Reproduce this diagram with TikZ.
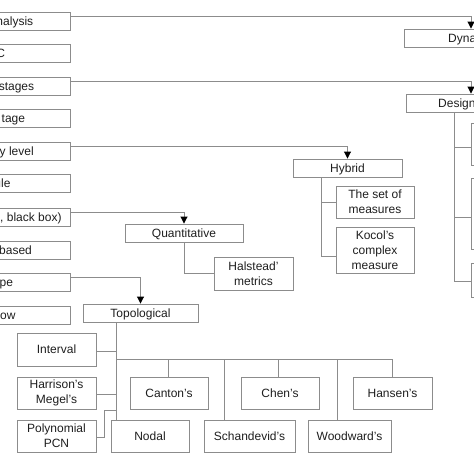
\documentclass[tikz,border=0pt]{standalone}
\usepackage{fontspec}
\setmainfont{Liberation Sans}
\usetikzlibrary{arrows.meta,calc}
\definecolor{ln}{HTML}{8C8C8C}
\definecolor{tx}{HTML}{1E1E1E}
\begin{document}
\begin{tikzpicture}[x=1pt,y=-1pt,
 box/.style={draw=ln, line width=0.9pt, inner sep=0pt, text=tx, font=\fontsize{12}{15}\selectfont, align=center},
 one/.style={text height=9pt, text depth=0.4pt},
 conn/.style={draw=ln, line width=0.9pt},
 arr/.style={conn, -{Triangle[width=7pt,length=7pt,color=black]}},
 lbl/.style={inner sep=0pt, text=tx, font=\fontsize{12}{15}\selectfont, anchor=base west}]
\path[use as bounding box] (0,0) rectangle (474,474);
\clip (0,0) rectangle (474,474);

% left column
\node[box, minimum width=110.5, minimum height=18.5] (L1) at (15.25,21.25) {};
\node[box, minimum width=110.5, minimum height=18.5] (L2) at (15.25,53.25) {};
\node[box, minimum width=110.5, minimum height=18.5] (L3) at (15.25,86.25) {};
\node[box, minimum width=110.5, minimum height=18.5] (L4) at (15.25,118.25) {};
\node[box, minimum width=110.5, minimum height=18.5] (L5) at (15.25,151.25) {};
\node[box, minimum width=110.5, minimum height=18.5] (L6) at (15.25,183.25) {};
\node[box, minimum width=110.5, minimum height=18.5] (L7) at (15.25,217.25) {};
\node[box, minimum width=110.5, minimum height=18.5] (L8) at (15.25,250.25) {};
\node[box, minimum width=110.5, minimum height=18.5] (L9) at (15.25,282.25) {};
\node[box, minimum width=110.5, minimum height=18.5] (L10) at (15.25,315.25) {};
\node[lbl] (t1) at (-3.7,25.55) {nalysis};
\node[lbl] (t2) at (-3.7,57.55) {C};
\node[lbl] (t3) at (-1.4,90.55) {stages};
\node[lbl] (t4) at (1.5,122.55) {tage};
\node[lbl] (t5) at (-0.5,155.55) {y level};
\node[lbl] (t6) at (-5.7,187.55) {ule};
\node[lbl] (t7) at (0,221.55) {, black box)};
\node[lbl] (t8) at (-1,254.55) {based};
\node[lbl] (t9) at (-0.5,286.55) {pe};
\node[lbl] (t10) at (0,319.55) {ow};

% right column
\node[box, minimum width=134, minimum height=18] (Dyn) at (471,38) {};
\node[lbl] (tDyn) at (448,42.3) {Dyna};
\node[box, minimum width=130, minimum height=18] (Des) at (471,103) {};
\node[lbl] (tDes) at (438,107.3) {Design};
\node[box, minimum width=89, minimum height=42] (RA) at (515.5,144) {};
\node[box, minimum width=89, minimum height=71] (RB) at (515.5,213.5) {};
\node[box, minimum width=89, minimum height=34] (RC) at (515.5,280) {};

% middle
\node[box, one, minimum width=109, minimum height=18] (Hyb) at (347.5,168) {Hybrid};
\node[box, minimum width=78, minimum height=32] (Set) at (375,202) {The set of\\measures};
\node[box, minimum width=78, minimum height=46] (Koc) at (375,250) {Kocol’s\\complex\\measure};
\node[box, one, minimum width=118, minimum height=18] (Quant) at (184,233) {Quantitative};
\node[box, minimum width=79, minimum height=33] (Hal) at (253.5,273.5) {Halstead’\\metrics};
\node[box, one, minimum width=115, minimum height=18] (Topo) at (140.5,313) {Topological};

% bottom
\node[box, one, minimum width=79, minimum height=33] (Int) at (56.5,349.5) {Interval};
\node[box, minimum width=79, minimum height=32] (Har) at (56.5,393) {Harrison’s\\Megel’s};
\node[box, minimum width=79, minimum height=32] (Pol) at (56.5,436) {Polynomial\\PCN};
\node[box, one, minimum width=78, minimum height=32] (Nod) at (150,436) {Nodal};
\node[box, one, minimum width=78, minimum height=32] (Can) at (169,393) {Canton’s};
\node[box, one, minimum width=91, minimum height=32] (Sch) at (249.5,436) {Schandevid’s};
\node[box, one, minimum width=78, minimum height=32] (Che) at (280,393) {Chen’s};
\node[box, one, minimum width=83, minimum height=32] (Woo) at (349.5,436) {Woodward’s};
\node[box, one, minimum width=79, minimum height=32] (Han) at (392.5,393) {Hansen’s};

% arrows from left column
\draw[arr] ($(L1.east)+(0,-4.5)$) -| (Dyn.north);
\draw[arr] ($(L3.east)+(0,-4.5)$) -| (Des.north);
\draw[arr] ($(L5.east)+(0,-4.5)$) -| (Hyb.north);
\draw[arr] ($(L7.east)+(0,-4.5)$) -| (Quant.north);
\draw[arr] ($(L9.east)+(0,-4.5)$) -| (Topo.north);

% design children
\coordinate (dv) at ($(Des.south)+(-17,0)$);
\draw[conn] (dv) |- ($(RC.west)+(0,1)$);
\draw[conn] (dv |- RA.west) ++(0,3) -- ($(RA.west)+(0,3)$);
\draw[conn] ($(dv |- RB.west)+(0,3.5)$) -- ($(RB.west)+(0,3.5)$);

% hybrid children
\coordinate (hv) at ($(Hyb.south)+(-26.5,0)$);
\draw[conn] (hv) |- ($(Koc.west)+(0,6)$);
\draw[conn] (hv |- Set.west) -- (Set.west);

% quantitative child
\draw[conn] (Quant.south) |- (Hal.west);

% topological children
\coordinate (tv) at ($(Topo.south)+(-24.5,0)$);
\draw[conn] (tv) -- (tv |- Nod.north);
\draw[conn] ($(Int.east)+(0,1.5)$) -- ($(tv |- Int.east)+(0,1.5)$);
\draw[conn] ($(Har.east)+(0,1)$) -- ($(tv |- Har.east)+(0,1)$);
\draw[conn] ($(Pol.east)+(0,1)$) -- ++(8,0) |- ($(tv |- Nod.north)+(0,-9)$);
\coordinate (bus) at (116,359);
\draw[conn] (bus) -- (bus -| Han.north) -- (Han.north);
\draw[conn] ($(bus -| Can.north)+(-1,0)$) -- ($(Can.north)+(-1,0)$);
\draw[conn] ($(bus -| Sch.north)+(-25.5,0)$) -- ($(Sch.north)+(-25.5,0)$);
\draw[conn] ($(bus -| Che.north)+(-2,0)$) -- ($(Che.north)+(-2,0)$);
\draw[conn] ($(bus -| Woo.north)+(-12.5,0)$) -- ($(Woo.north)+(-12.5,0)$);
\end{tikzpicture}
\end{document}
